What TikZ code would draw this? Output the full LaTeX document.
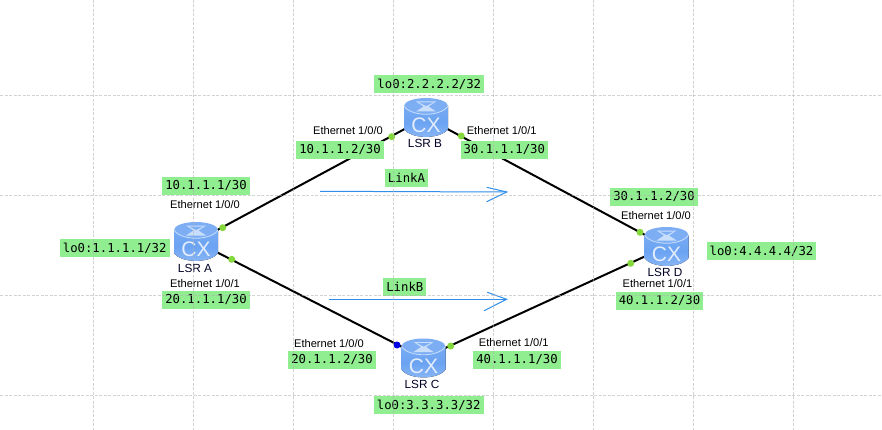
\documentclass[tikz,border=0pt]{standalone}
\usepackage{fontspec}
\setmainfont{Liberation Sans}
\newfontfamily\labelfont{DejaVu Sans Mono}
\definecolor{gridgray}{HTML}{B0B0B0}
\definecolor{labelgreen}{HTML}{90EE90}
\definecolor{portgreen}{HTML}{84D83C}
\definecolor{flowblue}{HTML}{2F8FEA}
\definecolor{routerdark}{HTML}{6BA3F2}
\definecolor{routerlight}{HTML}{8DB9F6}
\definecolor{routerline}{HTML}{C9DEFB}
\tikzset{
  gridline/.style={draw=gridgray,line width=0.8pt,dash pattern=on 3pt off 1.5pt,opacity=0.55},
  iplabel/.style={fill=labelgreen,inner xsep=3pt,inner ysep=0pt,minimum height=18pt,text=black,font=\labelfont\fontsize{12.3}{14}\selectfont},
  portlabel/.style={inner sep=0pt,text=black,font=\fontsize{11.1}{13}\selectfont},
  routername/.style={inner sep=0pt,text=black!85!blue,font=\fontsize{11.8}{14}\selectfont},
  routeranchor/.style={minimum width=44pt,minimum height=39pt,inner sep=0pt},
  link/.style={draw=black,line width=2pt},
  port/.style={circle,fill=portgreen,inner sep=0pt,minimum size=7pt},
  blueport/.style={circle,fill=blue!90!black,inner sep=0pt,minimum size=7pt},
  flow/.style={draw=flowblue,line width=1pt},
  router/.pic={
    \fill[top color=routerdark!92!white,bottom color=routerlight,middle color=routerdark]
      (-22,-11.5) -- (-22,11.5) .. controls (-15,22) and (15,22) .. (22,11.5) -- (22,-11.5) -- cycle;
    \fill[routerdark!88!white] (0,-11.5) ellipse [x radius=22,y radius=8];
    \draw[routerline,line width=0.8pt] (-22,-11.5) .. controls (-15,-0.5) and (15,-0.5) .. (22,-11.5);
    \fill[routerline] (-10,-16) -- (10,-16) -- (2.5,-11) -- (10,-6) -- (-10,-6) -- (-2.5,-11) -- cycle;
    \fill[routerdark!88!white] (-7,-15) -- (7,-15) -- (0,-11.5) -- cycle;
    \node[inner sep=0pt,text=white,opacity=0.8,font=\fontsize{21}{21}\selectfont] (-cx) at (0,8) {CX};
  }
}
\begin{document}
\begin{tikzpicture}[x=1pt,y=-1pt]
\useasboundingbox[fill=white] (0,0) rectangle (882,430);

% router positions
\node[routeranchor] (ra) at (196,241.5) {};
\node[routeranchor] (rb) at (426,117.5) {};
\node[routeranchor] (rc) at (423.5,358) {};
\node[routeranchor] (rd) at (666.5,246.5) {};

% links
\draw[link] (ra.center) -- (rb.center);
\draw[link] (ra.center) -- (rc.center);
\draw[link] (rb.center) -- (rd.center);
\draw[link] (rc.center) -- (rd.center);

% router icons
\pic (raicon) at (ra.center) {router};
\pic (rbicon) at (rb.center) {router};
\pic (rcicon) at (rc.center) {router};
\pic (rdicon) at (rd.center) {router};

% ports
\node[port] (pa0) at (222.7,227.7) {};
\node[port] (pa1) at (231.7,259.3) {};
\node[port] (pb0) at (391.7,136.7) {};
\node[port] (pb1) at (461.3,136) {};
\node[blueport] (pc0) at (397,345) {};
\node[port] (pc1) at (450.7,346) {};
\node[port] (pd0) at (640,232.3) {};
\node[port] (pd1) at (630.7,263.3) {};

% router names
\node[routername] (na) at (195,268) {LSR A};
\node[routername] (nb) at (425,143.7) {LSR B};
\node[routername] (nc) at (422,384.7) {LSR C};
\node[routername] (nd) at (665,272) {LSR D};

% interface names
\node[portlabel] (ea0) at (205,205) {Ethernet 1/0/0};
\node[portlabel] (ea1) at (205,283.3) {Ethernet 1/0/1};
\node[portlabel] (eb0) at (348,131) {Ethernet 1/0/0};
\node[portlabel] (eb1) at (501.7,131) {Ethernet 1/0/1};
\node[portlabel] (ec0) at (329,344) {Ethernet 1/0/0};
\node[portlabel] (ec1) at (513.8,343) {Ethernet 1/0/1};
\node[portlabel] (ed0) at (656,215.7) {Ethernet 1/0/0};
\node[portlabel] (ed1) at (657.5,284) {Ethernet 1/0/1};

% addresses
\node[iplabel] (ia0) at (206,186) {10.1.1.1/30};
\node[iplabel] (ia1) at (206,300) {20.1.1.1/30};
\node[iplabel] (la) at (114.7,248) {lo0:1.1.1.1/32};
\node[iplabel] (lb) at (429.3,84.5) {lo0:2.2.2.2/32};
\node[iplabel] (ib0) at (340,150) {10.1.1.2/30};
\node[iplabel] (ib1) at (504.3,150) {30.1.1.1/30};
\node[iplabel] (ic0) at (332,360) {20.1.1.2/30};
\node[iplabel] (ic1) at (517,360) {40.1.1.1/30};
\node[iplabel] (lc) at (428.7,405) {lo0:3.3.3.3/32};
\node[iplabel] (id0) at (654,197) {30.1.1.2/30};
\node[iplabel] (id1) at (659.5,301) {40.1.1.2/30};
\node[iplabel] (ld) at (761.5,251) {lo0:4.4.4.4/32};
\node[iplabel] (linka) at (406.5,178) {LinkA};
\node[iplabel] (linkb) at (404.8,287) {LinkB};

% traffic arrows
\coordinate (fa0) at (320,191.3);
\coordinate (fa1) at (506.7,192);
\coordinate (fa2) at (486.7,187.3);
\coordinate (fa3) at (486.7,201.7);
\coordinate (fb0) at (329.3,299.3);
\coordinate (fb1) at (506.7,299.3);
\coordinate (fb2) at (487.3,292.3);
\coordinate (fb3) at (484,310.7);
\draw[flow] (fa0) -- (fa1);
\draw[flow] (fa2) -- (fa1) -- (fa3);
\draw[flow] (fb0) -- (fb1);
\draw[flow] (fb2) -- (fb1) -- (fb3);

% background grid, visible through everything
\foreach \gx in {93.5,193.5,293.5,393.5,493.5,593.5,693.5,793.5}
  \draw[gridline] (\gx,0) -- (\gx,430);
\foreach \gy in {95.5,195.5,295.5,395.5}
  \draw[gridline] (0,\gy) -- (882,\gy);
\end{tikzpicture}
\end{document}
